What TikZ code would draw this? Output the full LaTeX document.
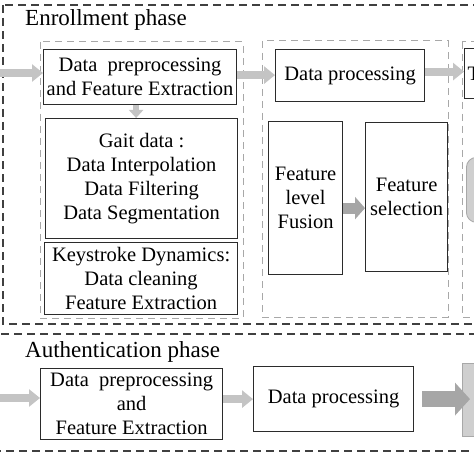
\documentclass[tikz,border=0pt]{standalone}
\usepackage{fontspec}
\setmainfont{Liberation Serif}
\usetikzlibrary{arrows.meta}
\newcommand\txtbody{\fontsize{20.5bp}{24bp}\selectfont}
\newcommand\txtphase{\fontsize{23bp}{26bp}\selectfont}
\definecolor{boxc}{HTML}{2B2B2B}
\definecolor{outerc}{HTML}{404040}
\definecolor{innerc}{HTML}{A8A8A8}
\definecolor{lightc}{HTML}{C4C4C4}
\definecolor{darkc}{HTML}{A6A6A6}
\definecolor{grayfill}{HTML}{CFCFCF}
\begin{document}
\begin{tikzpicture}[x=1bp,y=-1bp,
  box/.style={draw=boxc, line width=1.2bp, fill=white, inner sep=1bp, align=center, font=\txtbody, anchor=north west},
  outerbox/.style={draw=outerc, line width=1.5bp, dash pattern=on 8bp off 5bp},
  groupbox/.style={draw=innerc, line width=1bp, dash pattern=on 7bp off 5bp},
  phase/.style={font=\txtphase, anchor=west, inner sep=0pt},
  lightarrow/.style={draw=lightc, line width=8bp, -{Triangle[length=11bp,width=17bp]}},
  smallarrow/.style={draw=lightc, line width=6bp, -{Triangle[length=8bp,width=14bp]}},
  darkarrow/.style={draw=darkc, line width=11bp, -{Triangle[length=10bp,width=22bp]}},
  bigarrow/.style={draw=darkc, line width=16bp, -{Triangle[length=15bp,width=32bp]}},
  grayshape/.style={draw=innerc, line width=0.8bp, fill=grayfill, anchor=north west, inner sep=0pt}
]
\useasboundingbox (0,0) rectangle (474,474);
\clip (0,0) rectangle (474,474);
\fill[white] (0,0) rectangle (474,474);

% outer phase frames
\draw[outerbox] (3,5) rectangle (495,324);
\draw[outerbox] (-20,334) rectangle (495,451);

% group frames
\draw[groupbox] (40,42) rectangle (243,318);
\draw[groupbox] (262,41) rectangle (448,317);
\draw[groupbox] (462,42) rectangle (495,317);

% headings
\node[phase] (enr) at (25,20) {Enrollment phase};
\node[phase] (auth) at (25,352) {Authentication phase};

% enrollment boxes
\node[box, minimum width=193bp, minimum height=55bp] (pre) at (43,49) {Data~~preprocessing\\and Feature Extraction};
\node[box, minimum width=192bp, minimum height=120bp] (gait) at (45,118) {Gait data :\\Data Interpolation\\Data Filtering\\Data Segmentation};
\node[box, minimum width=193bp, minimum height=72bp] (key) at (44,242) {Keystroke Dynamics:\\Data cleaning\\Feature Extraction};
\node[box, minimum width=149bp, minimum height=52bp] (dp) at (275,49) {Data processing};
\node[box, minimum width=74bp, minimum height=153bp] (fus) at (268,121) {Feature\\level\\Fusion};
\node[box, minimum width=82bp, minimum height=149bp] (sel) at (365,122) {Feature\\selection};
\node[box, text width=40bp, align=left, inner sep=3bp, minimum height=50bp] (tb) at (464,48) {T};
\node[grayshape, minimum width=40bp, minimum height=65bp, rounded corners=10bp] (gshape) at (466,157) {};

% authentication boxes
\node[box, minimum width=182bp, minimum height=71bp] (apre) at (40,368) {Data~~preprocessing\\and\\Feature Extraction};
\node[box, minimum width=160bp, minimum height=65bp] (adp) at (253,366) {Data processing};
\node[grayshape, minimum width=40bp, minimum height=73bp] (agray) at (462,363) {};

% connectors
\coordinate (ein) at (-2,73);
\coordinate (ain) at (-2,398);
\draw[lightarrow] (ein) -- (ein -| pre.west);
\draw[lightarrow] ([yshift=2bp]pre.east) -- ([yshift=2bp]pre.east -| dp.west);
\draw[lightarrow] ([yshift=4bp]dp.east) -- ([yshift=4bp]dp.east -| tb.west);
\draw[smallarrow] ([xshift=-4bp]pre.south) -- ([xshift=-4bp]pre.south |- gait.north);
\draw[darkarrow] ([yshift=-10bp]fus.east) -- ([yshift=-10bp]fus.east -| sel.west);
\draw[lightarrow] (ain) -- (ain -| apre.west);
\draw[lightarrow] (adp.west -| apre.east) -- (adp.west);
\draw[bigarrow] ([xshift=8bp]adp.east) -- ([xshift=8bp]adp.east -| agray.west);
\end{tikzpicture}
\end{document}
